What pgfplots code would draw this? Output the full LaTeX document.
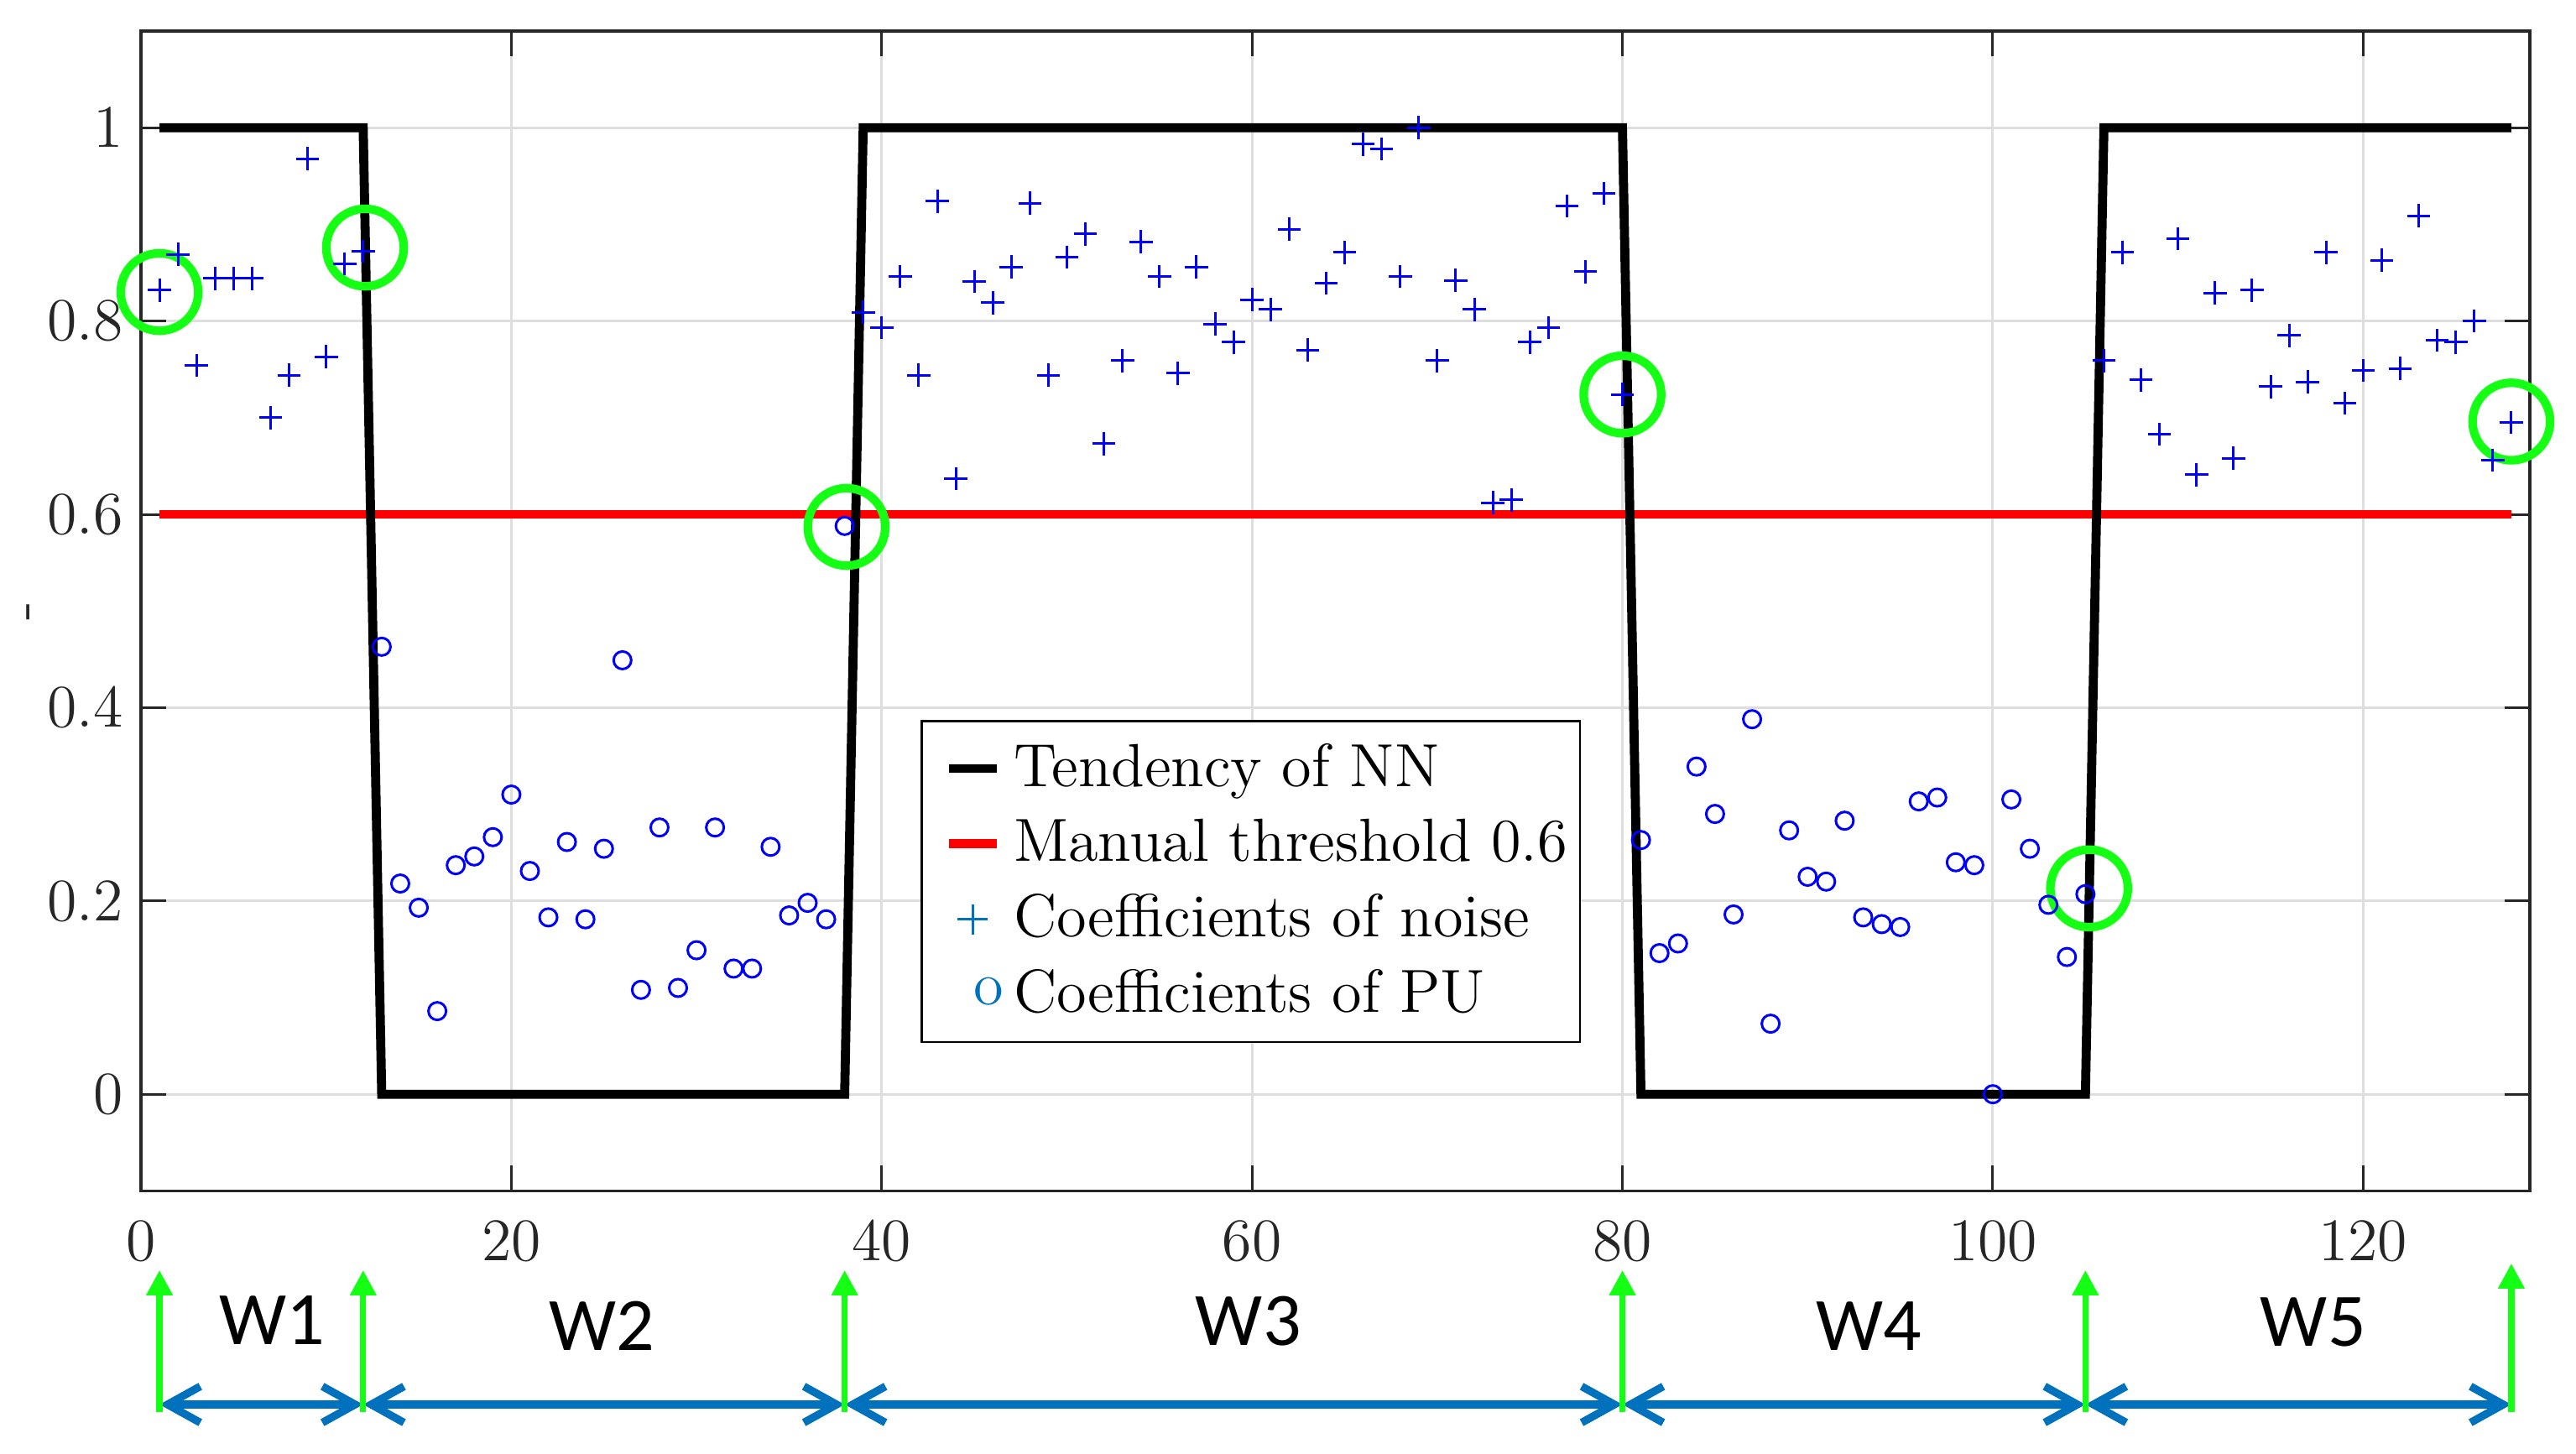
\documentclass[border=0pt]{standalone}
\usepackage{fontspec}
\usepackage{pgfplots}
\usepackage{pgfplotstable}
\pgfplotsset{compat=1.18}
\usetikzlibrary{arrows.meta}
\newfontfamily\carlito{Carlito}
\definecolor{mblue}{RGB}{0,114,189}
\definecolor{agreen}{RGB}{20,255,20}
\definecolor{axgray}{RGB}{38,38,38}

\pgfplotstableread{
x y
1 0.832
2 0.869
3 0.754
4 0.844
5 0.844
6 0.844
7 0.700
8 0.744
9 0.968
10 0.763
11 0.859
12 0.872
39 0.809
40 0.793
41 0.846
42 0.744
43 0.924
44 0.637
45 0.841
46 0.819
47 0.856
48 0.922
49 0.744
50 0.866
51 0.890
52 0.673
53 0.759
54 0.882
55 0.846
56 0.746
57 0.856
58 0.797
59 0.778
60 0.822
61 0.812
62 0.895
63 0.770
64 0.839
65 0.871
66 0.983
67 0.978
68 0.846
69 1.000
70 0.759
71 0.842
72 0.812
73 0.612
74 0.615
75 0.778
76 0.793
77 0.919
78 0.851
79 0.932
80 0.724
106 0.759
107 0.871
108 0.739
109 0.683
110 0.885
111 0.641
112 0.829
113 0.658
114 0.832
115 0.732
116 0.785
117 0.737
118 0.871
119 0.715
120 0.749
121 0.863
122 0.751
123 0.909
124 0.780
125 0.778
126 0.800
127 0.656
128 0.695
}\noisedata

\pgfplotstableread{
x y
13 0.463
14 0.218
15 0.193
16 0.086
17 0.237
18 0.246
19 0.266
20 0.310
21 0.231
22 0.183
23 0.261
24 0.181
25 0.254
26 0.449
27 0.108
28 0.276
29 0.110
30 0.149
31 0.276
32 0.130
33 0.130
34 0.256
35 0.185
36 0.198
37 0.181
38 0.588
81 0.263
82 0.146
83 0.156
84 0.339
85 0.290
86 0.186
87 0.388
88 0.073
89 0.273
90 0.225
91 0.220
92 0.283
93 0.183
94 0.176
95 0.173
96 0.303
97 0.307
98 0.240
99 0.237
100 0.000
101 0.305
102 0.254
103 0.196
104 0.142
105 0.207
}\pudata

\pgfplotstableread{
x y
1 1
12 1
13 0
38 0
39 1
80 1
81 0
105 0
106 1
128 1
}\nndata

\pgfplotstableread{
x y
1 0.830
12.1 0.876
38.1 0.587
80 0.724
105.2 0.213
128 0.696
}\circdata

\tikzset{
  warrow/.style={mblue, line width=1.55pt, {Straight Barb[length=6.5pt,width=7.2pt]}-{Straight Barb[length=6.5pt,width=7.2pt]}},
  garrow/.style={agreen, line width=1.2pt, -{Triangle[length=5pt,width=5pt]}},
  wlabel/.style={font=\carlito\fontsize{15}{15}\selectfont},
}
\pgfplotsset{
  lineleg/.style={legend image code/.code={\path (-4pt,0pt); \draw[##1] (0pt,0pt) -- (9.5pt,0pt);}},
  markleg/.style={legend image code/.code={\path (-4pt,0pt) (9.5pt,0pt); \draw[##1] plot coordinates {(4.75pt,0pt)};}},
  oleg/.style={legend image code/.code={\path (-4pt,0pt) (9.5pt,0pt); \node[text=mblue, inner sep=0pt] at (4.75pt,0pt) {o};}},
}

\begin{document}
\begin{tikzpicture}
\begin{axis}[
  scale only axis,
  width=474.5pt, height=230.4pt,
  xmin=0, xmax=129, ymin=-0.1, ymax=1.1,
  xtick={0,20,40,60,80,100,120},
  ytick={0,0.2,0.4,0.6,0.8,1},
  grid=major,
  major grid style={color=black!13, line width=0.5pt},
  axis line style={axgray, line width=0.6pt},
  tick style={axgray, line width=0.5pt},
  major tick length=5pt,
  tick align=inside,
  ticklabel style={font=\fontsize{11.8}{13}\selectfont, text=axgray},
  xticklabel style={yshift=-2.5pt},
  ylabel={-},
  ylabel style={font=\fontsize{11.5}{13}\selectfont, text=axgray, inner sep=1pt,
    at={(axis description cs:-0.045,0.5)}, anchor=center},
  clip=false,
  legend cell align=left,
  legend style={at={(0.3264,0.4058)}, anchor=north west, draw=black,
    line width=0.4pt, fill=white, font=\fontsize{12.1}{13}\selectfont,
    inner xsep=0.5pt, inner ysep=2.4pt, row sep=1pt},
]
% legend entries
\addlegendimage{black, line width=1.8pt, lineleg}
\addlegendentry{Tendency of NN}
\addlegendimage{red, line width=1.8pt, lineleg}
\addlegendentry{Manual threshold 0.6}
\addlegendimage{only marks, mark=+, mark size=3pt, mblue, mark options={line width=0.6pt}, markleg}
\addlegendentry{Coefficients of noise}
\addlegendimage{oleg}
\addlegendentry{Coefficients of PU}

% data
\addplot[only marks, mark=o, mark size=7.7pt, agreen, mark options={line width=1.7pt}, forget plot] table[x=x,y=y] {\circdata};
\addplot[red, line width=1.8pt, forget plot] coordinates {(1,0.6) (128,0.6)};
\addplot[only marks, mark=+, mark size=2.3pt, blue, mark options={line width=0.5pt}, forget plot] table[x=x,y=y] {\noisedata};
\addplot[only marks, mark=o, mark size=1.75pt, blue, mark options={line width=0.5pt}, forget plot] table[x=x,y=y] {\pudata};
\addplot[black, line width=1.8pt, forget plot] table[x=x,y=y] {\nndata};

% window annotations below the axis
\draw[warrow] (axis cs:1,-0.321) -- (axis cs:12,-0.321);
\draw[warrow] (axis cs:12,-0.321) -- (axis cs:38,-0.321);
\draw[warrow] (axis cs:38,-0.321) -- (axis cs:80,-0.321);
\draw[warrow] (axis cs:80,-0.321) -- (axis cs:105,-0.321);
\draw[warrow] (axis cs:105,-0.321) -- (axis cs:128,-0.321);
\draw[garrow] (axis cs:1,-0.329) -- (axis cs:1,-0.182);
\draw[garrow] (axis cs:12,-0.329) -- (axis cs:12,-0.182);
\draw[garrow] (axis cs:38,-0.329) -- (axis cs:38,-0.182);
\draw[garrow] (axis cs:80,-0.329) -- (axis cs:80,-0.182);
\draw[garrow] (axis cs:105,-0.329) -- (axis cs:105,-0.182);
\draw[garrow] (axis cs:128,-0.329) -- (axis cs:128,-0.175);
\node[wlabel] at (axis cs:7.07,-0.234) {W1};
\node[wlabel] at (axis cs:24.9,-0.240) {W2};
\node[wlabel] at (axis cs:59.8,-0.235) {W3};
\node[wlabel] at (axis cs:93.3,-0.240) {W4};
\node[wlabel] at (axis cs:117.3,-0.236) {W5};
\end{axis}
\pgfresetboundingbox
\path[use as bounding box] ([xshift=-28pt,yshift=-52.17pt]current axis.south west) rectangle ([xshift=9.17pt,yshift=6.17pt]current axis.north east);
\end{tikzpicture}
\end{document}
